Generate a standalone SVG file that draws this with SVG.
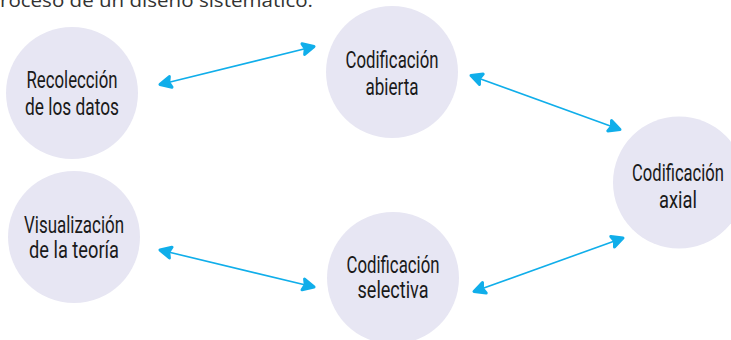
<svg xmlns="http://www.w3.org/2000/svg" width="731" height="340" viewBox="0 0 731 340">
<defs>
<style>
.node{fill:#E7E6F3}
.lbl{font-family:Roboto,"Liberation Sans",sans-serif;font-size:23px;font-weight:400;fill:#1A1A1A;text-anchor:middle}
.cap{font-family:"Open Sans","Liberation Sans",sans-serif;font-size:19px;fill:#333}
.conn{stroke:#10AEEA;stroke-width:1.6;fill:none;marker-start:url(#ah);marker-end:url(#ah)}
</style>
<marker id="ah" viewBox="-14 -8 16 16" markerWidth="16" markerHeight="16" refX="0" refY="0" markerUnits="userSpaceOnUse" orient="auto-start-reverse">
<path d="M0,0 L-11,-5.5 L-9,0 L-11,5.5 Z" fill="#10AEEA" stroke="#10AEEA" stroke-width="3" stroke-linejoin="round"/>
</marker>
</defs>
<rect width="731" height="340" fill="#fff"/>
<text class="cap" x="0" y="7" textLength="313" lengthAdjust="spacingAndGlyphs">roceso de un diseño sistemático.</text>
<g id="connectors">
<line class="conn" x1="160" y1="84.5" x2="314" y2="46.5"/>
<line class="conn" x1="471" y1="75.5" x2="620" y2="129.5"/>
<line class="conn" x1="160" y1="250" x2="314" y2="287"/>
<line class="conn" x1="474" y1="291.5" x2="623" y2="238"/>
</g>
<g id="recoleccion">
<circle class="node" cx="72" cy="93" r="66"/>
<text class="lbl" x="72" y="88" textLength="91" lengthAdjust="spacingAndGlyphs">Recolección</text>
<text class="lbl" x="72" y="115" textLength="94" lengthAdjust="spacingAndGlyphs">de los datos</text>
</g>
<g id="abierta">
<circle class="node" cx="392" cy="72" r="66"/>
<text class="lbl" x="392" y="68" textLength="93" lengthAdjust="spacingAndGlyphs">Codificación</text>
<text class="lbl" x="392" y="95" textLength="53" lengthAdjust="spacingAndGlyphs">abierta</text>
</g>
<g id="axial">
<circle class="node" cx="679" cy="182.5" r="66"/>
<text class="lbl" x="678" y="181" textLength="92" lengthAdjust="spacingAndGlyphs">Codificación</text>
<text class="lbl" x="678" y="208" textLength="38" lengthAdjust="spacingAndGlyphs">axial</text>
</g>
<g id="visualizacion">
<circle class="node" cx="74" cy="237" r="66"/>
<text class="lbl" x="74" y="233" textLength="100" lengthAdjust="spacingAndGlyphs">Visualización</text>
<text class="lbl" x="74" y="258" textLength="90" lengthAdjust="spacingAndGlyphs">de la teoría</text>
</g>
<g id="selectiva">
<circle class="node" cx="393" cy="278" r="66"/>
<text class="lbl" x="393" y="273" textLength="93" lengthAdjust="spacingAndGlyphs">Codificación</text>
<text class="lbl" x="393" y="298" textLength="71" lengthAdjust="spacingAndGlyphs">selectiva</text>
</g>
</svg>
